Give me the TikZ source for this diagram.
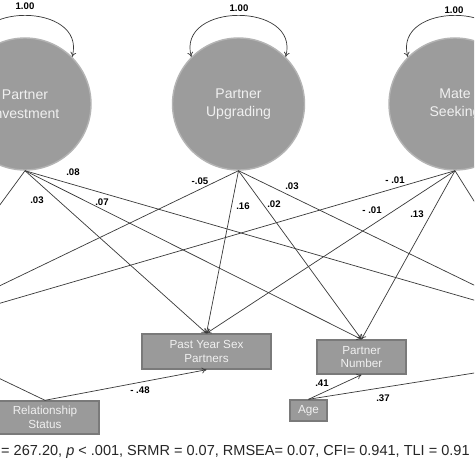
\documentclass[tikz,border=0pt]{standalone}
\usepackage{fontspec}
\setmainfont{Liberation Sans}
\usepackage{tikz}
\usetikzlibrary{arrows.meta,positioning}
\definecolor{latent}{HTML}{9C9C9C}
\definecolor{latentrim}{HTML}{B4B4B4}
\definecolor{obsfill}{HTML}{9A9A9A}
\definecolor{obsrim}{HTML}{7A7A7A}
\definecolor{paletext}{HTML}{F0F0F0}
\definecolor{ink}{HTML}{3A3A3A}

\begin{document}
\begin{tikzpicture}[x=0.03cm, y=-0.03cm,
    factor/.style={circle, fill=latent, draw=latentrim, line width=1.2pt, text=paletext,
                   minimum size=3.96cm, inner sep=0pt, align=center,
                   font=\fontsize{12}{16}\selectfont},
    measure/.style={rectangle, fill=obsfill, draw=obsrim, line width=1.2pt, text=paletext,
                    align=center, inner sep=1pt, font=\fontsize{10}{11.5}\selectfont},
    effect/.style={draw=ink, line width=0.6pt, -{To[length=4pt,width=5pt]}},
    variance/.style={draw=ink, line width=0.6pt, {To[length=4pt,width=5pt]}-{To[length=4pt,width=5pt]}},
    coef/.style={font=\fontsize{8.2}{9}\selectfont\bfseries, inner sep=0pt},
]
\useasboundingbox (0,0) rectangle (474,474);
\clip (0,0) rectangle (474,474);
\fill[white] (0,0) rectangle (474,474);

% latent factors
\node[factor] (inv) at (25,104) {Partner\\Investment};
\node[factor] (upg) at (238.5,104) {Partner\\Upgrading};
\node[factor] (seek) at (455,104) {Mate\\Seeking};

% observed outcomes
\node[measure, minimum width=3.87cm, minimum height=1.05cm] (sex) at (206.5,351.5) {Past Year Sex\\Partners};
\node[measure, minimum width=2.67cm, minimum height=1.02cm] (num) at (361.5,357) {Partner\\Number};
\node[measure, minimum width=1.11cm, minimum height=0.63cm] (age) at (308.5,410.5) {Age};
\node[measure, minimum width=3.24cm, minimum height=0.99cm] (rel) at (45,417.5) {Relationship\\Status};

% ends outside the frame
\coordinate (leftout) at (-92,330);
\coordinate (leftlow) at (-60,350);
\coordinate (rightout) at (550,322);
\coordinate (rightlow) at (550,361);

% variances
\draw[variance] (inv.135) to[out=105,in=75,looseness=1.55] (inv.45);
\draw[variance] (upg.135) to[out=105,in=75,looseness=1.55] (upg.45);
\draw[variance] (seek.135) to[out=105,in=75,looseness=1.55] (seek.45);
\node[coef] (vinv) at (25,6) {1.00};
\node[coef] (vupg) at (239,8) {1.00};
\node[coef] (vseek) at (454,10) {1.00};

% paths
\foreach \f in {inv,upg,seek}{
  \draw[effect] (\f.south) -- (leftout);
  \draw[effect] (\f.south) -- (sex.north);
  \draw[effect] (\f.south) -- (num.north);
  \draw[effect] (\f.south) -- (rightout);
}
\draw[effect] (rel.north) -- (sex.south);
\draw[effect] (rel.north) -- (leftlow);
\draw[effect] (age.north) -- (num.south);
\draw[effect] (age.north) -- (rightlow);

% estimates
\node[coef] (binv1) at (73,172) {.08};
\node[coef] (binv2) at (37,200) {.03};
\node[coef] (binv3) at (102,202) {.07};
\node[coef] (bupg1) at (200,181) {-.05};
\node[coef] (bupg2) at (243,206) {.16};
\node[coef] (bupg3) at (274,204) {.02};
\node[coef] (bupg4) at (292,186) {.03};
\node[coef] (bseek1) at (395,180) {- .01};
\node[coef] (bseek2) at (372,210) {- .01};
\node[coef] (bseek3) at (417,214) {.13};
\node[coef] (brel) at (140,390) {- .48};
\node[coef] (bage1) at (322,383) {.41};
\node[coef] (bage2) at (383,398) {.37};

% fit indices
\node[anchor=west, inner sep=0pt, text=black!85, font=\fontsize{12.4}{14}\selectfont] (fit) at (1,452)
  {= 267.20, \textit{p} < .001, SRMR = 0.07, RMSEA= 0.07, CFI= 0.941, TLI = 0.91};

\end{tikzpicture}
\end{document}
